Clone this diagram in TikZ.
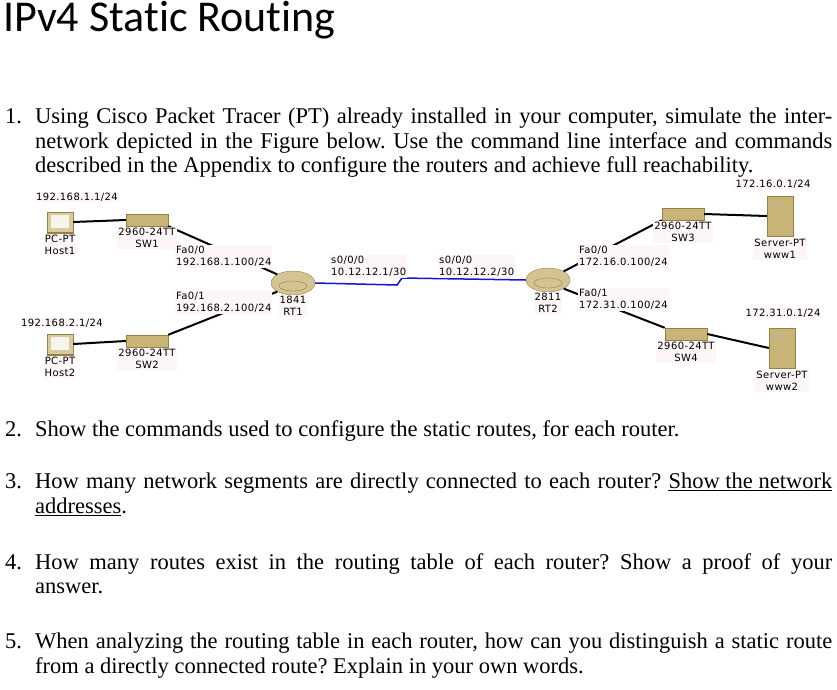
\documentclass[tikz,border=0pt]{standalone}
\usepackage{fontspec}
\setmainfont{Liberation Serif}
\newfontfamily\titlefont[Ligatures=NoCommon]{Carlito}
\newfontfamily\netfont[LetterSpace=4]{DejaVu Sans}
\usetikzlibrary{shapes.geometric,positioning}
\definecolor{tan}{RGB}{201,180,120}
\definecolor{tandark}{RGB}{150,128,70}
\definecolor{labbg}{RGB}{253,246,246}
\definecolor{serialblue}{RGB}{20,20,210}
\tikzset{
  lab/.style={font=\netfont\fontsize{10}{12}\selectfont, align=center, inner sep=1pt, fill=labbg},
  labl/.style={lab, align=left, anchor=north west},
  eth/.style={line width=2pt, black},
  sw/.style={draw=tandark, fill=tan, minimum width=42pt, minimum height=12pt, inner sep=0pt},
  rt/.style={ellipse, draw=tandark, fill=tan!80, minimum width=44pt, minimum height=24pt, inner sep=0pt},
  srv/.style={draw=tandark, fill=tan, minimum width=26pt, minimum height=40pt, inner sep=0pt},
  pc/.style={draw=tandark, fill=tan!70, minimum width=26pt, minimum height=20pt, inner sep=0pt},
  q/.style={anchor=north west, text width=797pt, align=justify, inner sep=0pt, font=\fontsize{22.5}{24.5}\selectfont\frenchspacing}
}
\newcommand{\qitem}[1]{\llap{\makebox[30pt][l]{#1}}}
\begin{document}
\begin{tikzpicture}[x=1pt,y=-1pt]
\fill[white] (0,0) rectangle (837,689);
\useasboundingbox (0,0) rectangle (837,689);
\node[anchor=west, inner sep=0pt, font=\titlefont\fontsize{44}{48}\selectfont] (title) at (3,20) {IPv4 Static Routing};

\node[q] (q1) at (35,108) {\qitem{1.}Using Cisco Packet Tracer (PT) already installed in your computer, simulate the inter-\linebreak network depicted in the Figure below. Use the command line interface and commands\linebreak described in the Appendix to configure the routers and achieve full reachability.};

% devices
\node[pc] (host1) at (60,222) {};
\node[pc] (host2) at (60,344) {};
\node[sw] (sw1) at (147,220) {};
\node[sw] (sw2) at (147,341) {};
\node[rt] (rt1) at (293,283) {};
\node[rt] (rt2) at (548,280) {};
\node[sw] (sw3) at (683,214) {};
\node[sw] (sw4) at (686,334) {};
\node[srv] (www1) at (780,216) {};
\node[srv] (www2) at (782,348) {};
\fill[white!85!tan] (51,215) rectangle (69,228);
\fill[white!85!tan] (51,337) rectangle (69,350);
\draw[tandark, fill=tan!60] (47,233) rectangle (73,238);
\draw[tandark, fill=tan!60] (47,355) rectangle (73,360);
\draw[tandark] ([yshift=-3pt]rt1.center) ellipse (14pt and 5pt);
\draw[tandark] ([yshift=-3pt]rt2.center) ellipse (14pt and 5pt);
\fill[tandark!60] (770,202) rectangle (782,206);
\fill[tandark!60] (772,334) rectangle (784,338);

% links
\draw[eth] (host1.east) -- (sw1.west);
\draw[eth] (host2.east) -- (sw2.west);
\draw[eth] (sw1.south east) -- (rt1.north west);
\draw[eth] (sw2.north east) -- (rt1.south west);
\draw[eth] (rt2.north east) -- (sw3.south west);
\draw[eth] (rt2.south east) -- (sw4.north west);
\draw[eth] (sw3.east) -- (www1.west);
\draw[eth] (sw4.east) -- (www2.west);
\coordinate (z1) at (397,285);
\coordinate (z2) at (402,278);
\draw[serialblue, line width=1.5pt] (rt1.east) -- (z1) -- (z2) -- (rt2.west);

% labels
\node[lab] (l1) at (77,197) {192.168.1.1/24};
\node[lab] (l2) at (62,323) {192.168.2.1/24};
\node[lab, below=2pt of host1] (lh1) {PC-PT\\Host1};
\node[lab, below=2pt of host2] (lh2) {PC-PT\\Host2};
\node[lab, below=1pt of sw1] (ls1) {2960-24TT\\SW1};
\node[lab, below=1pt of sw2] (ls2) {2960-24TT\\SW2};
\node[lab, below=1pt of sw3] (ls3) {2960-24TT\\SW3};
\node[lab, below=1pt of sw4] (ls4) {2960-24TT\\SW4};
\node[lab, below=0pt of rt1] (lr1) {1841\\RT1};
\node[lab, below=0pt of rt2] (lr2) {2811\\RT2};
\node[lab, below=2pt of www1] (lw1) {Server-PT\\www1};
\node[lab, below=2pt of www2] (lw2) {Server-PT\\www2};
\node[lab] (l3) at (773,184) {172.16.0.1/24};
\node[lab] (l4) at (783,313) {172.31.0.1/24};
\node[labl] (f1) at (175,245) {Fa0/0\\192.168.1.100/24};
\node[labl] (f2) at (175,291) {Fa0/1\\192.168.2.100/24};
\node[labl] (s1) at (330,255) {s0/0/0\\10.12.12.1/30};
\node[labl] (s2) at (438,255) {s0/0/0\\10.12.12.2/30};
\node[labl] (f3) at (578,245) {Fa0/0\\172.16.0.100/24};
\node[labl] (f4) at (578,288) {Fa0/1\\172.31.0.100/24};

% questions
\node[q] (q2) at (35,420) {\qitem{2.}Show the commands used to configure the static routes, for each router.};
\node[q] (q3) at (35,473) {\qitem{3.}How many network segments are directly connected to each router? \underline{Show the network}\linebreak \underline{addresses}.};
\node[q] (q4) at (35,553) {\qitem{4.}How many routes exist in the routing table of each router? Show a proof of your\linebreak answer.};
\node[q] (q5) at (35,633) {\qitem{5.}When analyzing the routing table in each router, how can you distinguish a static route\linebreak from a directly connected route? Explain in your own words.};
\end{tikzpicture}
\end{document}
